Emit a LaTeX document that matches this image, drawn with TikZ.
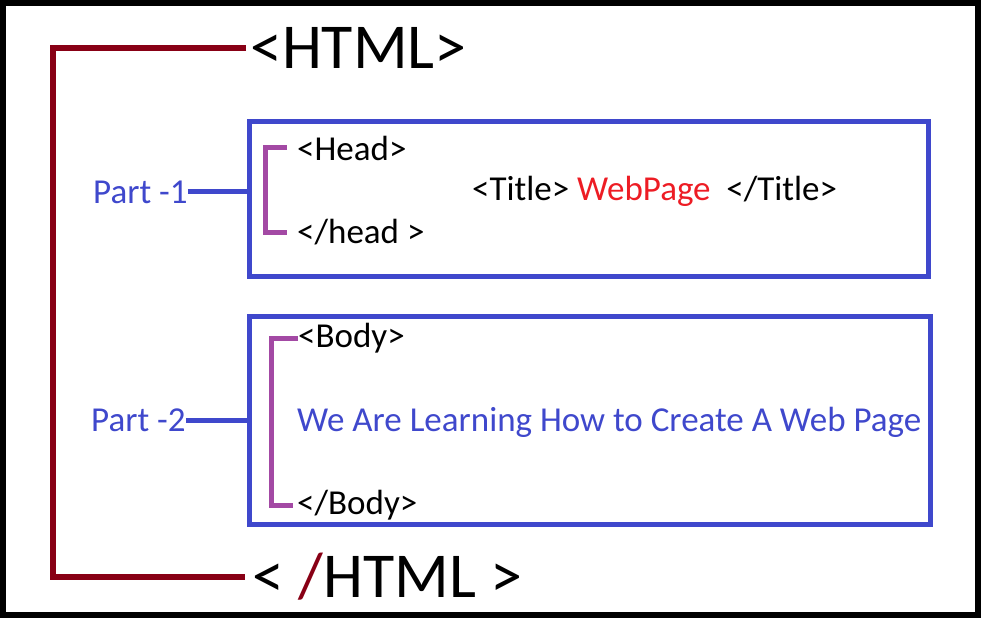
\documentclass[tikz,border=0pt]{standalone}
\usepackage{fontspec}
\setmainfont{Carlito}
\usepackage{xcolor}
\definecolor{htmlred}{RGB}{136,0,21}
\definecolor{partblue}{RGB}{63,72,204}
\definecolor{tagpurple}{RGB}{163,73,164}
\definecolor{pagered}{RGB}{237,28,36}
\usetikzlibrary{positioning}

\begin{document}
\begin{tikzpicture}[
      x=1pt, y=-1pt,
      frame/.style={draw=black, line width=6pt},
      htmlline/.style={draw=htmlred, line width=6pt},
      partbox/.style={draw=partblue, line width=5pt, inner sep=0pt},
      tagline/.style={draw=tagpurple, line width=5pt},
      link/.style={draw=partblue, line width=5pt},
      bigtag/.style={anchor=west, inner sep=0pt, font=\fontsize{64}{72}\selectfont},
      tag/.style={anchor=west, inner sep=0pt, font=\fontsize{35}{40}\selectfont},
      partlabel/.style={tag, text=partblue}
    ]
      \useasboundingbox (0,0) rectangle (981,620);
      \draw[frame] (3,3) rectangle (978,615);

      % html tags and outer bracket
      \node[bigtag] (htmlopen) at (250,48) {<HTML>};
      \node[bigtag] (htmlclose) at (252,577) {< {\color{htmlred}/}HTML >};
      \coordinate (htmlspine) at (53,300);
      \draw[htmlline] ([xshift=-4pt]htmlopen.west) -| (htmlspine) |- ([xshift=-7pt]htmlclose.west);

      % part 1 : head
      \node[partbox, minimum width=679pt, minimum height=154pt] (headbox) at (588.5,199) {};
      \node[partlabel] (part1) at (93,192) {Part -1};
      \draw[link] (part1.east) -- (part1 -| headbox.west);
      \node[tag] (headopen) at (297,148) {<Head>};
      \node[tag] (headclose) at (297,232) {</head >};
      \node[tag] (title) at (472,191) {<Title> {\color{pagered}WebPage}\ \ </Title>};
      \coordinate (headspine) at (265,190);
      \draw[tagline] ([xshift=-10pt]headopen.west) -| (headspine) |- ([xshift=-10pt]headclose.west);

      % part 2 : body
      \node[partbox, minimum width=681pt, minimum height=208pt] (bodybox) at (589.5,420) {};
      \node[partlabel] (part2) at (91,420) {Part -2};
      \draw[link] (part2.east) -- (part2 -| bodybox.west);
      \node[tag] (bodyopen) at (298,338) {<Body>};
      \node[tag] (bodyclose) at (297,505) {</Body>};
      \node[tag, text=partblue] (message) at (297,422) {We Are Learning How to Create A Web Page};
      \coordinate (bodyspine) at (271,420);
      \draw[tagline] (bodyopen.west) -| (bodyspine) |- ([xshift=-4pt]bodyclose.west);
\end{tikzpicture}
\end{document}
